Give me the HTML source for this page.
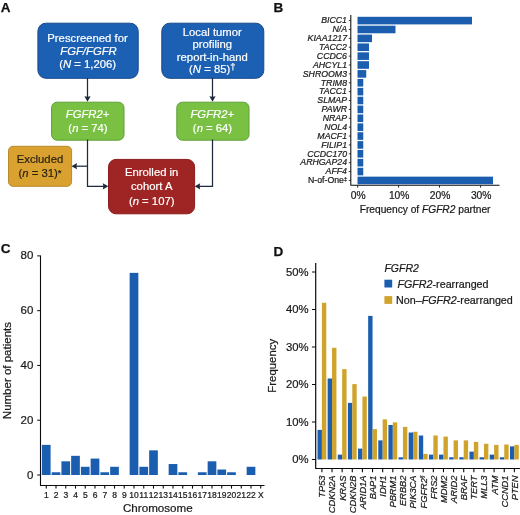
<!DOCTYPE html>
<html><head><meta charset="utf-8"><title>Figure</title>
<style>
html,body{margin:0;padding:0;background:#fff;}
svg{display:block;font-family:"Liberation Sans",sans-serif;}
.i{font-style:italic}
.b{font-weight:bold}
text[fill="#1a1a1a"]{stroke:#1a1a1a;stroke-width:.22px}
text[fill="#fff"]{stroke:#fff;stroke-width:.2px}
text[fill="#2a2210"]{stroke:#2a2210;stroke-width:.2px}
</style></head><body>
<svg width="520" height="515" viewBox="0 0 520 515">
<rect width="520" height="515" fill="#fff"/>

<text x="0.8" y="12" font-size="13.5" class="b" fill="#111" stroke="#111" stroke-width="0.25">A</text>
<text x="273.6" y="12" font-size="13.5" class="b" fill="#111" stroke="#111" stroke-width="0.25">B</text>
<text x="0.8" y="253.2" font-size="13.5" class="b" fill="#111" stroke="#111" stroke-width="0.25">C</text>
<text x="273.5" y="255.8" font-size="13.5" class="b" fill="#111" stroke="#111" stroke-width="0.25">D</text>
<g id="A">
<rect x="37.9" y="23.2" width="100.29999999999998" height="55.099999999999994" rx="8" fill="#1c60b4" stroke="#18498a" stroke-width="1"/>
<rect x="161.8" y="23.2" width="102.0" height="55.099999999999994" rx="8" fill="#1c60b4" stroke="#18498a" stroke-width="1"/>
<rect x="51.6" y="102.2" width="72.4" height="37.999999999999986" rx="5.5" fill="#7ac143" stroke="#5c9e38" stroke-width="1"/>
<rect x="176.8" y="102.2" width="72.19999999999999" height="37.999999999999986" rx="5.5" fill="#7ac143" stroke="#5c9e38" stroke-width="1"/>
<rect x="8.5" y="146.3" width="63.099999999999994" height="40.0" rx="4.5" fill="#d9a130" stroke="#b98a2c" stroke-width="1"/>
<rect x="108.5" y="159.4" width="86.1" height="54.400000000000006" rx="7.5" fill="#9e2524" stroke="#8a1c1c" stroke-width="1"/>
<text x="87.5" y="42" font-size="11.3" text-anchor="middle" fill="#fff" >Prescreened for</text>
<text x="88.5" y="55" font-size="11.3" text-anchor="middle" fill="#fff" ><tspan class="i">FGF/FGFR</tspan></text>
<text x="87.7" y="67.5" font-size="11.3" text-anchor="middle" fill="#fff" >(<tspan class="i">N</tspan> = 1,206)</text>
<text x="212.3" y="36" font-size="11.3" text-anchor="middle" fill="#fff" >Local tumor</text>
<text x="212.3" y="48.3" font-size="11.3" text-anchor="middle" fill="#fff" >profiling</text>
<text x="212.3" y="60.6" font-size="11.3" text-anchor="middle" fill="#fff" >report-in-hand</text>
<text x="212.3" y="72.9" font-size="11.3" text-anchor="middle" fill="#fff" >(<tspan class="i">N</tspan> = 85)<tspan dy="-3" font-size="9.5">†</tspan></text>
<text x="87.6" y="117.6" font-size="11.3" text-anchor="middle" fill="#fff" ><tspan class="i">FGFR2+</tspan></text>
<text x="88" y="131.5" font-size="11.3" text-anchor="middle" fill="#fff" >(<tspan class="i">n</tspan> = 74)</text>
<text x="212.3" y="117.6" font-size="11.3" text-anchor="middle" fill="#fff" ><tspan class="i">FGFR2+</tspan></text>
<text x="212.5" y="131.5" font-size="11.3" text-anchor="middle" fill="#fff" >(<tspan class="i">n</tspan> = 64)</text>
<text x="40" y="162.5" font-size="11.3" text-anchor="middle" fill="#2a2210" >Excluded</text>
<text x="40" y="176.5" font-size="11.3" text-anchor="middle" fill="#2a2210" >(<tspan class="i">n</tspan> = 31)<tspan dy="-1" font-size="9.5">*</tspan></text>
<text x="151.7" y="176" font-size="11.3" text-anchor="middle" fill="#fff" >Enrolled in</text>
<text x="151.7" y="190" font-size="11.3" text-anchor="middle" fill="#fff" >cohort A</text>
<text x="151.7" y="204.8" font-size="11.3" text-anchor="middle" fill="#fff" >(<tspan class="i">n</tspan> = 107)</text>
<polyline points="87.5,78 87.5,99" fill="none" stroke="#1e2a3c" stroke-width="1.25"/>
<polygon points="87.50,101.70 84.40,96.20 87.50,96.80 90.60,96.20" fill="#1e2a3c"/>
<polyline points="212.5,78 212.5,99" fill="none" stroke="#1e2a3c" stroke-width="1.25"/>
<polygon points="212.50,101.70 209.40,96.20 212.50,96.80 215.60,96.20" fill="#1e2a3c"/>
<polyline points="87.5,139.5 87.5,186.3 105,186.3" fill="none" stroke="#1e2a3c" stroke-width="1.25"/>
<polygon points="108.30,186.30 102.80,183.20 103.40,186.30 102.80,189.40" fill="#1e2a3c"/>
<polyline points="87.5,166.2 75,166.2" fill="none" stroke="#1e2a3c" stroke-width="1.25"/>
<polygon points="71.50,166.20 77.00,163.10 76.40,166.20 77.00,169.30" fill="#1e2a3c"/>
<polyline points="212.5,139.5 212.5,186.3 198,186.3" fill="none" stroke="#1e2a3c" stroke-width="1.25"/>
<polygon points="194.70,186.30 200.20,183.20 199.60,186.30 200.20,189.40" fill="#1e2a3c"/>
</g>
<g id="B">
<rect x="357.5" y="16.80" width="114.50" height="7.6" fill="#1b5eb0"/>
<line x1="348.8" x2="350.8" y1="20.60" y2="20.60" stroke="#0c0c0c" stroke-width="0.8"/>
<text x="347" y="23.40" font-size="8.75" text-anchor="end" fill="#1a1a1a" class="i">BICC1</text>
<rect x="357.5" y="25.68" width="38.00" height="7.6" fill="#1b5eb0"/>
<line x1="348.8" x2="350.8" y1="29.48" y2="29.48" stroke="#0c0c0c" stroke-width="0.8"/>
<text x="347" y="32.28" font-size="8.75" text-anchor="end" fill="#1a1a1a" class="i">N/A</text>
<rect x="357.5" y="34.56" width="14.50" height="7.6" fill="#1b5eb0"/>
<line x1="348.8" x2="350.8" y1="38.36" y2="38.36" stroke="#0c0c0c" stroke-width="0.8"/>
<text x="347" y="41.16" font-size="8.75" text-anchor="end" fill="#1a1a1a" class="i">KIAA1217</text>
<rect x="357.5" y="43.44" width="11.50" height="7.6" fill="#1b5eb0"/>
<line x1="348.8" x2="350.8" y1="47.24" y2="47.24" stroke="#0c0c0c" stroke-width="0.8"/>
<text x="347" y="50.04" font-size="8.75" text-anchor="end" fill="#1a1a1a" class="i">TACC2</text>
<rect x="357.5" y="52.32" width="11.50" height="7.6" fill="#1b5eb0"/>
<line x1="348.8" x2="350.8" y1="56.12" y2="56.12" stroke="#0c0c0c" stroke-width="0.8"/>
<text x="347" y="58.92" font-size="8.75" text-anchor="end" fill="#1a1a1a" class="i">CCDC6</text>
<rect x="357.5" y="61.20" width="11.50" height="7.6" fill="#1b5eb0"/>
<line x1="348.8" x2="350.8" y1="65.00" y2="65.00" stroke="#0c0c0c" stroke-width="0.8"/>
<text x="347" y="67.80" font-size="8.75" text-anchor="end" fill="#1a1a1a" class="i">AHCYL1</text>
<rect x="357.5" y="70.08" width="8.75" height="7.6" fill="#1b5eb0"/>
<line x1="348.8" x2="350.8" y1="73.88" y2="73.88" stroke="#0c0c0c" stroke-width="0.8"/>
<text x="347" y="76.68" font-size="8.75" text-anchor="end" fill="#1a1a1a" class="i">SHROOM3</text>
<rect x="357.5" y="78.96" width="5.75" height="7.6" fill="#1b5eb0"/>
<line x1="348.8" x2="350.8" y1="82.76" y2="82.76" stroke="#0c0c0c" stroke-width="0.8"/>
<text x="347" y="85.56" font-size="8.75" text-anchor="end" fill="#1a1a1a" class="i">TRIM8</text>
<rect x="357.5" y="87.84" width="5.75" height="7.6" fill="#1b5eb0"/>
<line x1="348.8" x2="350.8" y1="91.64" y2="91.64" stroke="#0c0c0c" stroke-width="0.8"/>
<text x="347" y="94.44" font-size="8.75" text-anchor="end" fill="#1a1a1a" class="i">TACC1</text>
<rect x="357.5" y="96.72" width="5.75" height="7.6" fill="#1b5eb0"/>
<line x1="348.8" x2="350.8" y1="100.52" y2="100.52" stroke="#0c0c0c" stroke-width="0.8"/>
<text x="347" y="103.32" font-size="8.75" text-anchor="end" fill="#1a1a1a" class="i">SLMAP</text>
<rect x="357.5" y="105.60" width="5.75" height="7.6" fill="#1b5eb0"/>
<line x1="348.8" x2="350.8" y1="109.40" y2="109.40" stroke="#0c0c0c" stroke-width="0.8"/>
<text x="347" y="112.20" font-size="8.75" text-anchor="end" fill="#1a1a1a" class="i">PAWR</text>
<rect x="357.5" y="114.48" width="5.75" height="7.6" fill="#1b5eb0"/>
<line x1="348.8" x2="350.8" y1="118.28" y2="118.28" stroke="#0c0c0c" stroke-width="0.8"/>
<text x="347" y="121.08" font-size="8.75" text-anchor="end" fill="#1a1a1a" class="i">NRAP</text>
<rect x="357.5" y="123.36" width="5.75" height="7.6" fill="#1b5eb0"/>
<line x1="348.8" x2="350.8" y1="127.16" y2="127.16" stroke="#0c0c0c" stroke-width="0.8"/>
<text x="347" y="129.96" font-size="8.75" text-anchor="end" fill="#1a1a1a" class="i">NOL4</text>
<rect x="357.5" y="132.24" width="5.75" height="7.6" fill="#1b5eb0"/>
<line x1="348.8" x2="350.8" y1="136.04" y2="136.04" stroke="#0c0c0c" stroke-width="0.8"/>
<text x="347" y="138.84" font-size="8.75" text-anchor="end" fill="#1a1a1a" class="i">MACF1</text>
<rect x="357.5" y="141.12" width="5.75" height="7.6" fill="#1b5eb0"/>
<line x1="348.8" x2="350.8" y1="144.92" y2="144.92" stroke="#0c0c0c" stroke-width="0.8"/>
<text x="347" y="147.72" font-size="8.75" text-anchor="end" fill="#1a1a1a" class="i">FILIP1</text>
<rect x="357.5" y="150.00" width="5.75" height="7.6" fill="#1b5eb0"/>
<line x1="348.8" x2="350.8" y1="153.80" y2="153.80" stroke="#0c0c0c" stroke-width="0.8"/>
<text x="347" y="156.60" font-size="8.75" text-anchor="end" fill="#1a1a1a" class="i">CCDC170</text>
<rect x="357.5" y="158.88" width="5.75" height="7.6" fill="#1b5eb0"/>
<line x1="348.8" x2="350.8" y1="162.68" y2="162.68" stroke="#0c0c0c" stroke-width="0.8"/>
<text x="347" y="165.48" font-size="8.75" text-anchor="end" fill="#1a1a1a" class="i">ARHGAP24</text>
<rect x="357.5" y="167.76" width="5.75" height="7.6" fill="#1b5eb0"/>
<line x1="348.8" x2="350.8" y1="171.56" y2="171.56" stroke="#0c0c0c" stroke-width="0.8"/>
<text x="347" y="174.36" font-size="8.75" text-anchor="end" fill="#1a1a1a" class="i">AFF4</text>
<rect x="357.5" y="176.64" width="135.50" height="7.6" fill="#1b5eb0"/>
<line x1="348.8" x2="350.8" y1="180.44" y2="180.44" stroke="#0c0c0c" stroke-width="0.8"/>
<text x="347" y="183.24" font-size="8.75" text-anchor="end" fill="#1a1a1a">N-of-One<tspan dy="-2.5" font-size="5.5">‡</tspan></text>
<polyline points="350.8,15 350.8,185.3 499.5,185.3" fill="none" stroke="#0c0c0c" stroke-width="1.05"/>
<line x1="357.7" x2="357.7" y1="185.3" y2="187.6" stroke="#0c0c0c" stroke-width="0.9"/>
<text x="358.3" y="198.6" font-size="10.3" text-anchor="middle" fill="#1a1a1a">0%</text>
<line x1="398.6" x2="398.6" y1="185.3" y2="187.6" stroke="#0c0c0c" stroke-width="0.9"/>
<text x="399.20000000000005" y="198.6" font-size="10.3" text-anchor="middle" fill="#1a1a1a">10%</text>
<line x1="439.5" x2="439.5" y1="185.3" y2="187.6" stroke="#0c0c0c" stroke-width="0.9"/>
<text x="440.1" y="198.6" font-size="10.3" text-anchor="middle" fill="#1a1a1a">20%</text>
<line x1="480.6" x2="480.6" y1="185.3" y2="187.6" stroke="#0c0c0c" stroke-width="0.9"/>
<text x="481.20000000000005" y="198.6" font-size="10.3" text-anchor="middle" fill="#1a1a1a">30%</text>
<text x="425.1" y="212.7" font-size="10.2" text-anchor="middle" fill="#1a1a1a">Frequency of <tspan class="i">FGFR2</tspan> partner</text>
</g>
<g id="C">
<rect x="41.90" y="444.87" width="8.7" height="30.13" fill="#1b5eb0"/>
<line x1="46.25" x2="46.25" y1="485.5" y2="488.6" stroke="#0c0c0c" stroke-width="1.1"/>
<text x="46.25" y="498.1" font-size="8.5" text-anchor="middle" fill="#1a1a1a">1</text>
<rect x="51.65" y="472.26" width="8.7" height="2.74" fill="#1b5eb0"/>
<line x1="56.00" x2="56.00" y1="485.5" y2="488.6" stroke="#0c0c0c" stroke-width="1.1"/>
<text x="56.00" y="498.1" font-size="8.5" text-anchor="middle" fill="#1a1a1a">2</text>
<rect x="61.40" y="461.31" width="8.7" height="13.70" fill="#1b5eb0"/>
<line x1="65.75" x2="65.75" y1="485.5" y2="488.6" stroke="#0c0c0c" stroke-width="1.1"/>
<text x="65.75" y="498.1" font-size="8.5" text-anchor="middle" fill="#1a1a1a">3</text>
<rect x="71.15" y="455.83" width="8.7" height="19.17" fill="#1b5eb0"/>
<line x1="75.50" x2="75.50" y1="485.5" y2="488.6" stroke="#0c0c0c" stroke-width="1.1"/>
<text x="75.50" y="498.1" font-size="8.5" text-anchor="middle" fill="#1a1a1a">4</text>
<rect x="80.90" y="466.78" width="8.7" height="8.22" fill="#1b5eb0"/>
<line x1="85.25" x2="85.25" y1="485.5" y2="488.6" stroke="#0c0c0c" stroke-width="1.1"/>
<text x="85.25" y="498.1" font-size="8.5" text-anchor="middle" fill="#1a1a1a">5</text>
<rect x="90.65" y="458.57" width="8.7" height="16.43" fill="#1b5eb0"/>
<line x1="95.00" x2="95.00" y1="485.5" y2="488.6" stroke="#0c0c0c" stroke-width="1.1"/>
<text x="95.00" y="498.1" font-size="8.5" text-anchor="middle" fill="#1a1a1a">6</text>
<rect x="100.40" y="472.26" width="8.7" height="2.74" fill="#1b5eb0"/>
<line x1="104.75" x2="104.75" y1="485.5" y2="488.6" stroke="#0c0c0c" stroke-width="1.1"/>
<text x="104.75" y="498.1" font-size="8.5" text-anchor="middle" fill="#1a1a1a">7</text>
<rect x="110.15" y="466.78" width="8.7" height="8.22" fill="#1b5eb0"/>
<line x1="114.50" x2="114.50" y1="485.5" y2="488.6" stroke="#0c0c0c" stroke-width="1.1"/>
<text x="114.50" y="498.1" font-size="8.5" text-anchor="middle" fill="#1a1a1a">8</text>
<line x1="124.25" x2="124.25" y1="485.5" y2="488.6" stroke="#0c0c0c" stroke-width="1.1"/>
<text x="124.25" y="498.1" font-size="8.5" text-anchor="middle" fill="#1a1a1a">9</text>
<rect x="129.65" y="272.86" width="8.7" height="202.14" fill="#1b5eb0"/>
<line x1="134.00" x2="134.00" y1="485.5" y2="488.6" stroke="#0c0c0c" stroke-width="1.1"/>
<text x="134.00" y="498.1" font-size="8.5" text-anchor="middle" fill="#1a1a1a">10</text>
<rect x="139.40" y="466.78" width="8.7" height="8.22" fill="#1b5eb0"/>
<line x1="143.75" x2="143.75" y1="485.5" y2="488.6" stroke="#0c0c0c" stroke-width="1.1"/>
<text x="143.75" y="498.1" font-size="8.5" text-anchor="middle" fill="#1a1a1a">11</text>
<rect x="149.15" y="450.35" width="8.7" height="24.65" fill="#1b5eb0"/>
<line x1="153.50" x2="153.50" y1="485.5" y2="488.6" stroke="#0c0c0c" stroke-width="1.1"/>
<text x="153.50" y="498.1" font-size="8.5" text-anchor="middle" fill="#1a1a1a">12</text>
<line x1="163.25" x2="163.25" y1="485.5" y2="488.6" stroke="#0c0c0c" stroke-width="1.1"/>
<text x="163.25" y="498.1" font-size="8.5" text-anchor="middle" fill="#1a1a1a">13</text>
<rect x="168.65" y="464.04" width="8.7" height="10.96" fill="#1b5eb0"/>
<line x1="173.00" x2="173.00" y1="485.5" y2="488.6" stroke="#0c0c0c" stroke-width="1.1"/>
<text x="173.00" y="498.1" font-size="8.5" text-anchor="middle" fill="#1a1a1a">14</text>
<rect x="178.40" y="472.26" width="8.7" height="2.74" fill="#1b5eb0"/>
<line x1="182.75" x2="182.75" y1="485.5" y2="488.6" stroke="#0c0c0c" stroke-width="1.1"/>
<text x="182.75" y="498.1" font-size="8.5" text-anchor="middle" fill="#1a1a1a">15</text>
<line x1="192.50" x2="192.50" y1="485.5" y2="488.6" stroke="#0c0c0c" stroke-width="1.1"/>
<text x="192.50" y="498.1" font-size="8.5" text-anchor="middle" fill="#1a1a1a">16</text>
<rect x="197.90" y="472.26" width="8.7" height="2.74" fill="#1b5eb0"/>
<line x1="202.25" x2="202.25" y1="485.5" y2="488.6" stroke="#0c0c0c" stroke-width="1.1"/>
<text x="202.25" y="498.1" font-size="8.5" text-anchor="middle" fill="#1a1a1a">17</text>
<rect x="207.65" y="461.31" width="8.7" height="13.70" fill="#1b5eb0"/>
<line x1="212.00" x2="212.00" y1="485.5" y2="488.6" stroke="#0c0c0c" stroke-width="1.1"/>
<text x="212.00" y="498.1" font-size="8.5" text-anchor="middle" fill="#1a1a1a">18</text>
<rect x="217.40" y="469.52" width="8.7" height="5.48" fill="#1b5eb0"/>
<line x1="221.75" x2="221.75" y1="485.5" y2="488.6" stroke="#0c0c0c" stroke-width="1.1"/>
<text x="221.75" y="498.1" font-size="8.5" text-anchor="middle" fill="#1a1a1a">19</text>
<rect x="227.15" y="472.26" width="8.7" height="2.74" fill="#1b5eb0"/>
<line x1="231.50" x2="231.50" y1="485.5" y2="488.6" stroke="#0c0c0c" stroke-width="1.1"/>
<text x="231.50" y="498.1" font-size="8.5" text-anchor="middle" fill="#1a1a1a">20</text>
<line x1="241.25" x2="241.25" y1="485.5" y2="488.6" stroke="#0c0c0c" stroke-width="1.1"/>
<text x="241.25" y="498.1" font-size="8.5" text-anchor="middle" fill="#1a1a1a">21</text>
<rect x="246.65" y="466.78" width="8.7" height="8.22" fill="#1b5eb0"/>
<line x1="251.00" x2="251.00" y1="485.5" y2="488.6" stroke="#0c0c0c" stroke-width="1.1"/>
<text x="251.00" y="498.1" font-size="8.5" text-anchor="middle" fill="#1a1a1a">22</text>
<line x1="260.75" x2="260.75" y1="485.5" y2="488.6" stroke="#0c0c0c" stroke-width="1.1"/>
<text x="260.75" y="498.1" font-size="8.5" text-anchor="middle" fill="#1a1a1a">X</text>
<polyline points="40.5,255.4 40.5,485.5 264.5,485.5" fill="none" stroke="#0c0c0c" stroke-width="1.1"/>
<line x1="37.2" x2="40.5" y1="475.00" y2="475.00" stroke="#0c0c0c" stroke-width="1"/>
<text x="33.4" y="478.50" font-size="11.5" text-anchor="end" fill="#1a1a1a">0</text>
<line x1="37.2" x2="40.5" y1="420.22" y2="420.22" stroke="#0c0c0c" stroke-width="1"/>
<text x="33.4" y="423.72" font-size="11.5" text-anchor="end" fill="#1a1a1a">20</text>
<line x1="37.2" x2="40.5" y1="365.44" y2="365.44" stroke="#0c0c0c" stroke-width="1"/>
<text x="33.4" y="368.94" font-size="11.5" text-anchor="end" fill="#1a1a1a">40</text>
<line x1="37.2" x2="40.5" y1="310.66" y2="310.66" stroke="#0c0c0c" stroke-width="1"/>
<text x="33.4" y="314.16" font-size="11.5" text-anchor="end" fill="#1a1a1a">60</text>
<line x1="37.2" x2="40.5" y1="255.88" y2="255.88" stroke="#0c0c0c" stroke-width="1"/>
<text x="33.4" y="259.38" font-size="11.5" text-anchor="end" fill="#1a1a1a">80</text>
<text x="157.8" y="512.2" font-size="11.6" text-anchor="middle" fill="#1a1a1a">Chromosome</text>
<text transform="translate(10.8,370.6) rotate(-90)" font-size="11.5" text-anchor="middle" fill="#1a1a1a">Number of patients</text>
</g>
<g id="D">
<rect x="317.50" y="429.88" width="4.4" height="29.62" fill="#1b5eb0"/>
<rect x="321.90" y="302.75" width="4.4" height="156.75" fill="#d0a32d"/>
<line x1="321.90" x2="321.90" y1="468.5" y2="472.2" stroke="#0c0c0c" stroke-width="1.1"/>
<text transform="translate(325.30,475.5) rotate(-90)" font-size="9.3" text-anchor="end" fill="#1a1a1a" class="i">TP53</text>
<rect x="327.63" y="378.50" width="4.4" height="81.00" fill="#1b5eb0"/>
<rect x="332.03" y="347.75" width="4.4" height="111.75" fill="#d0a32d"/>
<line x1="332.03" x2="332.03" y1="468.5" y2="472.2" stroke="#0c0c0c" stroke-width="1.1"/>
<text transform="translate(335.43,475.5) rotate(-90)" font-size="9.3" text-anchor="end" fill="#1a1a1a" class="i">CDKN2A</text>
<rect x="337.76" y="454.62" width="4.4" height="4.88" fill="#1b5eb0"/>
<rect x="342.16" y="369.12" width="4.4" height="90.38" fill="#d0a32d"/>
<line x1="342.16" x2="342.16" y1="468.5" y2="472.2" stroke="#0c0c0c" stroke-width="1.1"/>
<text transform="translate(345.56,475.5) rotate(-90)" font-size="9.3" text-anchor="end" fill="#1a1a1a" class="i">KRAS</text>
<rect x="347.89" y="402.88" width="4.4" height="56.62" fill="#1b5eb0"/>
<rect x="352.29" y="384.12" width="4.4" height="75.38" fill="#d0a32d"/>
<line x1="352.29" x2="352.29" y1="468.5" y2="472.2" stroke="#0c0c0c" stroke-width="1.1"/>
<text transform="translate(355.69,475.5) rotate(-90)" font-size="9.3" text-anchor="end" fill="#1a1a1a" class="i">CDKN2B</text>
<rect x="358.02" y="448.62" width="4.4" height="10.88" fill="#1b5eb0"/>
<rect x="362.42" y="396.50" width="4.4" height="63.00" fill="#d0a32d"/>
<line x1="362.42" x2="362.42" y1="468.5" y2="472.2" stroke="#0c0c0c" stroke-width="1.1"/>
<text transform="translate(365.82,475.5) rotate(-90)" font-size="9.3" text-anchor="end" fill="#1a1a1a" class="i">ARID1A</text>
<rect x="368.15" y="315.88" width="4.4" height="143.62" fill="#1b5eb0"/>
<rect x="372.55" y="429.12" width="4.4" height="30.38" fill="#d0a32d"/>
<line x1="372.55" x2="372.55" y1="468.5" y2="472.2" stroke="#0c0c0c" stroke-width="1.1"/>
<text transform="translate(375.95,475.5) rotate(-90)" font-size="9.3" text-anchor="end" fill="#1a1a1a" class="i">BAP1</text>
<rect x="378.28" y="440.38" width="4.4" height="19.12" fill="#1b5eb0"/>
<rect x="382.68" y="419.38" width="4.4" height="40.12" fill="#d0a32d"/>
<line x1="382.68" x2="382.68" y1="468.5" y2="472.2" stroke="#0c0c0c" stroke-width="1.1"/>
<text transform="translate(386.08,475.5) rotate(-90)" font-size="9.3" text-anchor="end" fill="#1a1a1a" class="i">IDH1</text>
<rect x="388.41" y="425.00" width="4.4" height="34.50" fill="#1b5eb0"/>
<rect x="392.81" y="422.38" width="4.4" height="37.12" fill="#d0a32d"/>
<line x1="392.81" x2="392.81" y1="468.5" y2="472.2" stroke="#0c0c0c" stroke-width="1.1"/>
<text transform="translate(396.21,475.5) rotate(-90)" font-size="9.3" text-anchor="end" fill="#1a1a1a" class="i">PBRM1</text>
<rect x="398.54" y="457.25" width="4.4" height="2.25" fill="#1b5eb0"/>
<rect x="402.94" y="426.88" width="4.4" height="32.62" fill="#d0a32d"/>
<line x1="402.94" x2="402.94" y1="468.5" y2="472.2" stroke="#0c0c0c" stroke-width="1.1"/>
<text transform="translate(406.34,475.5) rotate(-90)" font-size="9.3" text-anchor="end" fill="#1a1a1a" class="i">ERBB2</text>
<rect x="408.67" y="432.50" width="4.4" height="27.00" fill="#1b5eb0"/>
<rect x="413.07" y="431.75" width="4.4" height="27.75" fill="#d0a32d"/>
<line x1="413.07" x2="413.07" y1="468.5" y2="472.2" stroke="#0c0c0c" stroke-width="1.1"/>
<text transform="translate(416.47,475.5) rotate(-90)" font-size="9.3" text-anchor="end" fill="#1a1a1a" class="i">PIK3CA</text>
<rect x="418.80" y="435.50" width="4.4" height="24.00" fill="#1b5eb0"/>
<rect x="423.20" y="453.88" width="4.4" height="5.62" fill="#d0a32d"/>
<line x1="423.20" x2="423.20" y1="468.5" y2="472.2" stroke="#0c0c0c" stroke-width="1.1"/>
<text transform="translate(426.60,475.5) rotate(-90)" font-size="9.3" text-anchor="end" fill="#1a1a1a" class="i">FGFR2<tspan dy="-2.5" font-size="4.5">§</tspan></text>
<rect x="428.93" y="454.62" width="4.4" height="4.88" fill="#1b5eb0"/>
<rect x="433.33" y="435.50" width="4.4" height="24.00" fill="#d0a32d"/>
<line x1="433.33" x2="433.33" y1="468.5" y2="472.2" stroke="#0c0c0c" stroke-width="1.1"/>
<text transform="translate(436.73,475.5) rotate(-90)" font-size="9.3" text-anchor="end" fill="#1a1a1a" class="i">FRS2</text>
<rect x="439.06" y="454.62" width="4.4" height="4.88" fill="#1b5eb0"/>
<rect x="443.46" y="436.62" width="4.4" height="22.88" fill="#d0a32d"/>
<line x1="443.46" x2="443.46" y1="468.5" y2="472.2" stroke="#0c0c0c" stroke-width="1.1"/>
<text transform="translate(446.86,475.5) rotate(-90)" font-size="9.3" text-anchor="end" fill="#1a1a1a" class="i">MDM2</text>
<rect x="449.19" y="457.25" width="4.4" height="2.25" fill="#1b5eb0"/>
<rect x="453.59" y="440.38" width="4.4" height="19.12" fill="#d0a32d"/>
<line x1="453.59" x2="453.59" y1="468.5" y2="472.2" stroke="#0c0c0c" stroke-width="1.1"/>
<text transform="translate(456.99,475.5) rotate(-90)" font-size="9.3" text-anchor="end" fill="#1a1a1a" class="i">ARID2</text>
<rect x="459.32" y="457.25" width="4.4" height="2.25" fill="#1b5eb0"/>
<rect x="463.72" y="440.38" width="4.4" height="19.12" fill="#d0a32d"/>
<line x1="463.72" x2="463.72" y1="468.5" y2="472.2" stroke="#0c0c0c" stroke-width="1.1"/>
<text transform="translate(467.12,475.5) rotate(-90)" font-size="9.3" text-anchor="end" fill="#1a1a1a" class="i">BRAF</text>
<rect x="469.45" y="451.62" width="4.4" height="7.88" fill="#1b5eb0"/>
<rect x="473.85" y="441.88" width="4.4" height="17.62" fill="#d0a32d"/>
<line x1="473.85" x2="473.85" y1="468.5" y2="472.2" stroke="#0c0c0c" stroke-width="1.1"/>
<text transform="translate(477.25,475.5) rotate(-90)" font-size="9.3" text-anchor="end" fill="#1a1a1a" class="i">TERT</text>
<rect x="479.58" y="457.25" width="4.4" height="2.25" fill="#1b5eb0"/>
<rect x="483.98" y="443.75" width="4.4" height="15.75" fill="#d0a32d"/>
<line x1="483.98" x2="483.98" y1="468.5" y2="472.2" stroke="#0c0c0c" stroke-width="1.1"/>
<text transform="translate(487.38,475.5) rotate(-90)" font-size="9.3" text-anchor="end" fill="#1a1a1a" class="i">MLL3</text>
<rect x="489.71" y="454.62" width="4.4" height="4.88" fill="#1b5eb0"/>
<rect x="494.11" y="444.88" width="4.4" height="14.62" fill="#d0a32d"/>
<line x1="494.11" x2="494.11" y1="468.5" y2="472.2" stroke="#0c0c0c" stroke-width="1.1"/>
<text transform="translate(497.51,475.5) rotate(-90)" font-size="9.3" text-anchor="end" fill="#1a1a1a" class="i">ATM</text>
<rect x="499.84" y="457.25" width="4.4" height="2.25" fill="#1b5eb0"/>
<rect x="504.24" y="444.50" width="4.4" height="15.00" fill="#d0a32d"/>
<line x1="504.24" x2="504.24" y1="468.5" y2="472.2" stroke="#0c0c0c" stroke-width="1.1"/>
<text transform="translate(507.64,475.5) rotate(-90)" font-size="9.3" text-anchor="end" fill="#1a1a1a" class="i">CCND1</text>
<rect x="509.97" y="446.38" width="4.4" height="13.12" fill="#1b5eb0"/>
<rect x="514.37" y="444.88" width="4.4" height="14.62" fill="#d0a32d"/>
<line x1="514.37" x2="514.37" y1="468.5" y2="472.2" stroke="#0c0c0c" stroke-width="1.1"/>
<text transform="translate(517.77,475.5) rotate(-90)" font-size="9.3" text-anchor="end" fill="#1a1a1a" class="i">PTEN</text>
<polyline points="315.7,263 315.7,468.5 520,468.5" fill="none" stroke="#0c0c0c" stroke-width="1.2"/>
<line x1="312" x2="315.7" y1="459.50" y2="459.50" stroke="#0c0c0c" stroke-width="1"/>
<text x="308.6" y="463.20" font-size="11.3" text-anchor="end" fill="#1a1a1a">0%</text>
<line x1="312" x2="315.7" y1="422.00" y2="422.00" stroke="#0c0c0c" stroke-width="1"/>
<text x="308.6" y="425.70" font-size="11.3" text-anchor="end" fill="#1a1a1a">10%</text>
<line x1="312" x2="315.7" y1="384.50" y2="384.50" stroke="#0c0c0c" stroke-width="1"/>
<text x="308.6" y="388.20" font-size="11.3" text-anchor="end" fill="#1a1a1a">20%</text>
<line x1="312" x2="315.7" y1="347.00" y2="347.00" stroke="#0c0c0c" stroke-width="1"/>
<text x="308.6" y="350.70" font-size="11.3" text-anchor="end" fill="#1a1a1a">30%</text>
<line x1="312" x2="315.7" y1="309.50" y2="309.50" stroke="#0c0c0c" stroke-width="1"/>
<text x="308.6" y="313.20" font-size="11.3" text-anchor="end" fill="#1a1a1a">40%</text>
<line x1="312" x2="315.7" y1="272.00" y2="272.00" stroke="#0c0c0c" stroke-width="1"/>
<text x="308.6" y="275.70" font-size="11.3" text-anchor="end" fill="#1a1a1a">50%</text>
<text transform="translate(276,365.8) rotate(-90)" font-size="11.4" text-anchor="middle" fill="#1a1a1a">Frequency</text>
<text x="384.4" y="272.2" font-size="10.5" class="i" fill="#1a1a1a">FGFR2</text>
<rect x="384.4" y="279.7" width="7.8" height="7.8" fill="#1b5eb0"/>
<rect x="384.4" y="296.1" width="7.8" height="7.8" fill="#d0a32d"/>
<text x="397.4" y="287.7" font-size="10.73" fill="#1a1a1a"><tspan class="i">FGFR2</tspan>-rearranged</text>
<text x="396" y="304" font-size="10.73" fill="#1a1a1a">Non–<tspan class="i">FGFR2</tspan>-rearranged</text>
</g>
</svg></body></html>
